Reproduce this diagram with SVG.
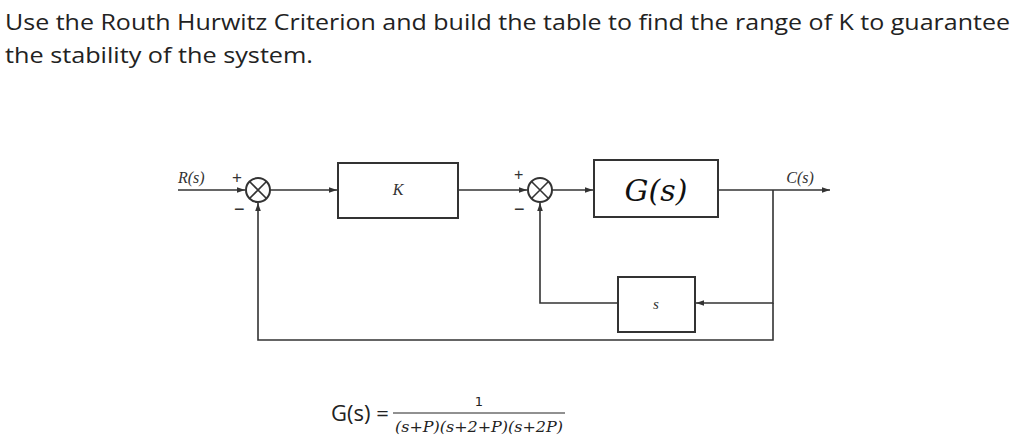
<svg xmlns="http://www.w3.org/2000/svg" width="1024" height="444" viewBox="0 0 1024 444">
<defs>
<style>
.l{stroke:#333;stroke-width:1.6;fill:none}
.b{stroke:#333;stroke-width:2;fill:#fff}
.t{font-family:"Open Sans",sans-serif;font-size:22px;fill:#222}
.m{font-family:"Liberation Serif",serif;font-style:italic;fill:#333}
</style>
<marker id="a" viewBox="0 0 10 10" refX="10" refY="5" markerWidth="8" markerHeight="8" orient="auto" markerUnits="userSpaceOnUse"><path d="M0,1.5 L10,5 L0,8.5z" fill="#333"/></marker>
</defs>
<rect width="1024" height="444" fill="#fff"/>
<text class="t" x="5" y="30" textLength="1005" lengthAdjust="spacingAndGlyphs">Use the Routh Hurwitz Criterion and build the table to find the range of K to guarantee</text>
<text class="t" x="5" y="63" textLength="308" lengthAdjust="spacingAndGlyphs">the stability of the system.</text>
<g id="connectors">
<path class="l" d="M178,190 H245" marker-end="url(#a)"/>
<path class="l" d="M270,190 H337" marker-end="url(#a)"/>
<path class="l" d="M458,190 H527" marker-end="url(#a)"/>
<path class="l" d="M552,190 H593" marker-end="url(#a)"/>
<path class="l" d="M718,190 H830" marker-end="url(#a)"/>
<path class="l" d="M773,190 V303 H696" marker-end="url(#a)"/>
<path class="l" d="M618,303 H540 V203" marker-end="url(#a)"/>
<path class="l" d="M773,303 V340 H258 V203" marker-end="url(#a)"/>
</g>
<g id="sum1"><circle class="b" cx="258" cy="190" r="12" stroke-width="1.6"/><path class="l" d="M249.5,181.5 L266.5,198.5 M266.5,181.5 L249.5,198.5"/>
<text class="m" x="178" y="183" font-size="16">R(s)</text><text x="232" y="183" font-family="Liberation Sans" font-size="17" fill="#333">+</text><text x="234" y="215" font-family="Liberation Sans" font-size="18" fill="#333">−</text></g>
<g id="k"><rect class="b" x="338" y="163" width="120" height="55"/><text class="m" x="398" y="195" font-size="16" text-anchor="middle">K</text></g>
<g id="sum2"><circle class="b" cx="540" cy="190" r="12" stroke-width="1.6"/><path class="l" d="M531.5,181.5 L548.5,198.5 M548.5,181.5 L531.5,198.5"/>
<text x="514" y="180" font-family="Liberation Sans" font-size="16" fill="#333">+</text><text x="514" y="215" font-family="Liberation Sans" font-size="18" fill="#333">−</text></g>
<g id="g"><rect class="b" x="594" y="160" width="124" height="57"/><text x="656" y="201" font-family="DejaVu Serif" font-style="italic" font-size="30" text-anchor="middle" fill="#111">G(s)</text></g>
<g id="s"><rect class="b" x="618" y="277" width="77" height="55"/><text class="m" x="656" y="309" font-size="15" text-anchor="middle">s</text></g>
<text class="m" x="800" y="183" font-size="16" text-anchor="middle">C(s)</text>
<g id="formula">
<text class="t" x="331" y="421" font-size="20">G(s) =</text>
<line x1="393" y1="413" x2="565" y2="413" stroke="#222" stroke-width="1"/>
<text x="479" y="406" font-family="DejaVu Sans" font-size="13" text-anchor="middle" fill="#222">1</text>
<text x="395" y="432" font-family="DejaVu Serif" font-style="italic" font-size="14" textLength="168" lengthAdjust="spacingAndGlyphs" fill="#222">(s+P)(s+2+P)(s+2P)</text>
</g>
</svg>
